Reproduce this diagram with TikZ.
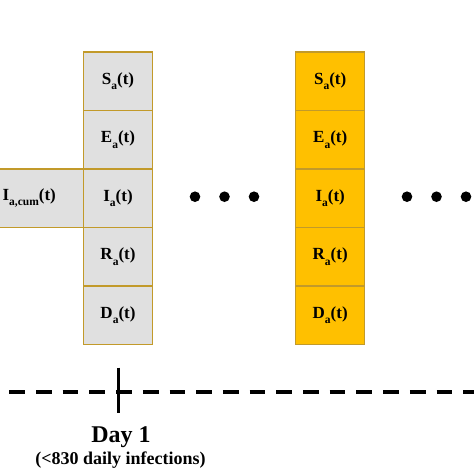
\documentclass[tikz,border=0pt]{standalone}
\usepackage{fontspec}
\setmainfont{Liberation Serif}
\definecolor{boxgray}{HTML}{E0E0E0}
\definecolor{boxgold}{HTML}{FFC000}
\definecolor{edgegold}{HTML}{C29A2A}
\newcommand{\sub}[1]{\raisebox{-0.32em}{\fontsize{11.5}{12}\selectfont #1}}
\begin{document}
\begin{tikzpicture}[x=1pt,y=-1pt,
  cell/.style={draw=edgegold,line width=1.2pt,minimum width=69pt,minimum height=58.5pt,inner sep=0pt,
    font=\fontsize{17}{18}\selectfont\bfseries},
  graycell/.style={cell,fill=boxgray},
  goldcell/.style={cell,fill=boxgold},
  dotnode/.style={circle,fill=black,inner sep=0pt,minimum size=10.6pt},
  timeline/.style={line width=4pt,dash pattern=on 15.7pt off 11pt},
  tick/.style={line width=3.6pt}]
\useasboundingbox (0,0) rectangle (474,474);
\clip (0,0) rectangle (474,474);
% left column (grey)
\node[graycell] (cum) at (29.25,198.25) [minimum width=108.5pt] {I\sub{a,cum}(t)};
\node[graycell] (s1) at (118,81.25) {S\sub{a}(t)};
\node[graycell] (e1) at (118,139.75) {E\sub{a}(t)};
\node[graycell] (i1) at (118,198.25) {I\sub{a}(t)};
\node[graycell] (r1) at (118,256.75) {R\sub{a}(t)};
\node[graycell] (d1) at (118,315.25) {D\sub{a}(t)};
% right column (gold)
\node[goldcell] (s2) at (330.2,81.25) {S\sub{a}(t)};
\node[goldcell] (e2) at (330.2,139.75) {E\sub{a}(t)};
\node[goldcell] (i2) at (330.2,198.25) {I\sub{a}(t)};
\node[goldcell] (r2) at (330.2,256.75) {R\sub{a}(t)};
\node[goldcell] (d2) at (330.2,315.25) {D\sub{a}(t)};
% dots
\node[dotnode] (p1) at (195,196.7) {};
\node[dotnode] (p2) at (224.5,196.7) {};
\node[dotnode] (p3) at (254,196.7) {};
\node[dotnode] (q1) at (407,196.7) {};
\node[dotnode] (q2) at (436.5,196.7) {};
\node[dotnode] (q3) at (466,196.7) {};
% timeline
\coordinate (tl0) at (9.3,391.7);
\coordinate (tl1) at (480,391.7);
\draw[timeline] (tl0) -- (tl1);
\coordinate (tk0) at (118.3,367.5);
\coordinate (tk1) at (118.3,413);
\draw[tick] (tk0) -- (tk1);
\node[font=\fontsize{24}{26}\selectfont\bfseries] (day) at (121,437) {Day 1};
\node[font=\fontsize{18}{20}\selectfont\bfseries] (inf) at (120.5,460.5) {(<830 daily infections)};
\end{tikzpicture}
\end{document}
